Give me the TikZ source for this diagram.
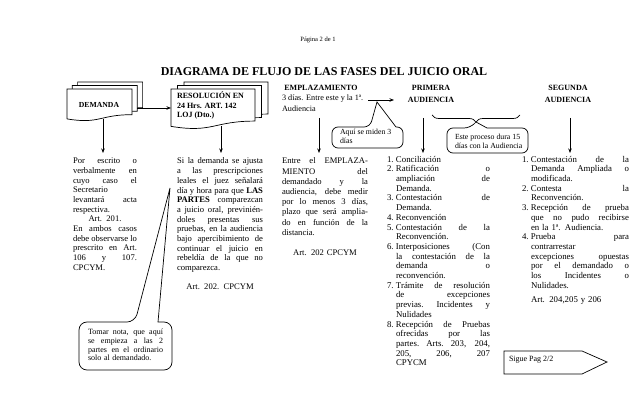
\documentclass[tikz,border=0pt]{standalone}
\usepackage{fontspec}
\setmainfont{Liberation Serif}
\usetikzlibrary{arrows.meta}
\usetikzlibrary{decorations.pathreplacing}

\newlength\lind
\setlength\lind{9pt}
\newlength\colw
\newcommand{\spreadsp}{\spaceskip=.25em plus 1fil\relax\xspaceskip=.25em plus 1fil\relax}
\newcommand{\jline}[1]{\makebox[\colw][s]{\spreadsp#1}}
\newcommand{\numj}[2]{\makebox[\lind][l]{#1}\makebox[\dimexpr\colw-\lind\relax][s]{\spreadsp#2}}
\newcommand{\numl}[2]{\makebox[\lind][l]{#1}#2}
\newcommand{\contj}[1]{\hspace*{\lind}\makebox[\dimexpr\colw-\lind\relax][s]{\spreadsp#1}}
\newcommand{\contl}[1]{\hspace*{\lind}#1}
% one sheet of a document symbol: left, top, width, height
\newcommand{\docsheet}[4]{%
  \filldraw[fill=white] (#1,#2) -- ({#1+#3},#2) -- ({#1+#3},{#2+0.802*#4})
    .. controls ({#1+0.5*#3},{#2+0.802*#4}) and ({#1+0.5*#3},{#2+1.107*#4}) .. (#1,{#2+0.934*#4}) -- cycle;}
% three sheets, offset by #5
\newcommand{\docstack}[5]{%
  \docsheet{#1+2*#5}{#2-7}{#3}{#4}
  \docsheet{#1+#5}{#2-3.5}{#3}{#4}
  \docsheet{#1}{#2}{#3}{#4}}

\begin{document}
\begin{tikzpicture}[x=1pt, y=-1pt, >={Stealth[length=4.5pt,width=3.5pt]}, line width=0.7pt,
  every node/.style={inner sep=0pt, outer sep=0pt},
  body/.style={anchor=north west, align=left, text width=#1,
    execute at begin node={\setlength{\colw}{#1}}, font=\fontsize{8.6}{9.7}\selectfont},
  head/.style={align=center, font=\bfseries\fontsize{8}{12}\selectfont},
  note/.style={anchor=north west, align=left, font=\fontsize{7.8}{9}\selectfont}]
\fill[white] (0,0) rectangle (638,406);
\useasboundingbox (0,0) rectangle (638,406);

\node[font=\fontsize{6.5}{8}\selectfont] (pagina) at (318,40) {Página 2 de 1};
\node[font=\bfseries\fontsize{12}{14}\selectfont] (titulo) at (324,72) {DIAGRAMA DE FLUJO DE LAS FASES DEL JUICIO ORAL};

% documents
\docstack{67}{89}{65}{32}{5.3}
\docstack{171}{89}{84}{40}{6.5}
\node[font=\bfseries\fontsize{7.7}{9}\selectfont] (demanda) at (99,105) {DEMANDA};
\node[anchor=north west, align=left, font=\bfseries\fontsize{8}{9.5}\selectfont] (resol) at (177,92)
  {RESOLUCIÓN EN\\24 Hrs. ART. 142\\LOJ (Dto.)};
\coordinate (demR) at (137,108);
\coordinate (resL) at (171,108);
\coordinate (demB) at (103,119.5);
\coordinate (resB) at (221,126);
\draw[->] (demR) -- (resL);

% headers
\node[head] (empl) at (321,88) {EMPLAZAMIENTO};
\node[anchor=north west, align=left, font=\fontsize{8.2}{10.5}\selectfont] (empltxt) at (282,95)
  {3 días. Entre este y la 1ª.\\Audiencia};
\node[head] (prim) at (431,94) {PRIMERA\\AUDIENCIA};
\node[head] (segu) at (568,94) {SEGUNDA\\AUDIENCIA};
\coordinate (emplR) at (368,100);
\coordinate (primL) at (394,100);
\draw[->] (emplR) -- (primL);
\coordinate (emplB) at (319,118);
\coordinate (primB) at (423,118);
\coordinate (seguB) at (570,118);

% callouts
\filldraw[fill=white] (370,127) -- (377,102) -- (396,127) [rounded corners=6pt]
  -- (403,127) -- (403,148) -- (332,148) -- (332,127) -- cycle;
\node[note] (aqui) at (340,129) {Aquí se miden 3\\días};

\coordinate (braceL) at (432,115);
\coordinate (braceR) at (520,115);
\draw[decorate, decoration={brace, mirror, amplitude=7pt}] (braceL) -- (braceR);
\filldraw[fill=white] (470,128) -- (476,122) -- (487,128) [rounded corners=6pt]
  -- (528,128) -- (528,153) -- (447,153) -- (447,128) -- cycle;
\node[note, font=\fontsize{7.8}{9.5}\selectfont] (proceso) at (455,134) {Este proceso dura 15\\días con la Audiencia};

% columns
\node[body=64pt] (col1) at (73,158) {%
  \jline{Por escrito o}\\
  \jline{verbalmente en}\\
  \jline{cuyo caso el}\\
  Secretario\\
  \jline{levantará acta}\\
  respectiva.\\
  \makebox[\colw]{Art. 201.}\\
  \jline{En ambos casos}\\
  \jline{debe observarse lo}\\
  \jline{prescrito en Art.}\\
  \jline{106 y 107.}\\
  CPCYM.};
\node[body=86pt] (col2) at (177,158) {%
  \jline{Si la demanda se ajusta}\\
  \jline{a las prescripciones}\\
  \jline{leales el juez señalará}\\
  \jline{día y hora para que \textbf{LAS}}\\
  \jline{\textbf{PARTES} comparezcan}\\
  \jline{a juicio oral, previnién-}\\
  \jline{doles presentas sus}\\
  \jline{pruebas, en la audiencia}\\
  \jline{bajo apercibimiento de}\\
  \jline{continuar el juicio en}\\
  \jline{rebeldía de la que no}\\
  comparezca.\\[9pt]
  \makebox[\colw]{Art. 202. CPCYM}};
\node[body=86pt, font=\fontsize{8.6}{10.2}\selectfont] (col3) at (282,158) {%
  \jline{Entre el EMPLAZA-}\\
  \jline{MIENTO del}\\
  \jline{demandado y la}\\
  \jline{audiencia, debe medir}\\
  \jline{por lo menos 3 días,}\\
  \jline{plazo que será amplia-}\\
  \jline{do en función de la}\\
  distancia.\\[10pt]
  \makebox[\colw]{Art. 202 CPCYM}};
\node[body=103pt, font=\fontsize{8.8}{9.7}\selectfont] (col4) at (387,156) {%
  \numl{1.}{Conciliación}\\
  \numj{2.}{Ratificación o}\\
  \contj{ampliación de}\\
  \contl{Demanda.}\\
  \numj{3.}{Contestación de}\\
  \contl{Demanda.}\\
  \numl{4.}{Reconvención}\\
  \numj{5.}{Contestación de la}\\
  \contl{Reconvención.}\\
  \numj{6.}{Interposiciones (Con}\\
  \contj{la contestación de la}\\
  \contj{demanda o}\\
  \contl{reconvención.}\\
  \numj{7.}{Trámite de resolución}\\
  \contj{de excepciones}\\
  \contj{previas. Incidentes y}\\
  \contl{Nulidades}\\
  \numj{8.}{Recepción de Pruebas}\\
  \contj{ofrecidas por las}\\
  \contj{partes. Arts. 203, 204,}\\
  \contj{205, 206, 207}\\
  \contl{CPYCM}};
\node[body=107pt, font=\fontsize{8.8}{9.7}\selectfont] (col5) at (522,156) {%
  \numj{1.}{Contestación de la}\\
  \contj{Demanda Ampliada o}\\
  \contl{modificada.}\\
  \numj{2.}{Contesta la}\\
  \contl{Reconvención.}\\
  \numj{3.}{Recepción de prueba}\\
  \contj{que no pudo recibirse}\\
  \contl{en la 1ª. Audiencia.}\\
  \numj{4.}{Prueba para}\\
  \contl{contrarrestar}\\
  \contj{excepciones opuestas}\\
  \contj{por el demandado o}\\
  \contj{los Incidentes o}\\
  \contl{Nulidades.}\\[5pt]
  \contl{Art. 204,205 y 206}};

% down arrows
\draw[->, shorten >=5pt] (demB) -- (demB |- col1.north);
\draw[->, shorten >=5pt] (resB) -- (resB |- col2.north);
\draw[->, shorten >=5pt] (emplB) -- (emplB |- col3.north);
\draw[->, shorten >=3pt] (primB) -- (primB |- col4.north);
\draw[->, shorten >=3pt] (seguB) -- (seguB |- col5.north);

% note on the parties
\filldraw[fill=white] (135,322) -- (170,188) -- (158,322) [rounded corners=8pt]
  -- (172,322) -- (172,370) -- (79,370) -- (79,322) -- cycle;
\node[note, text width=75pt, execute at begin node={\setlength{\colw}{75pt}},
  font=\fontsize{8}{8.8}\selectfont] (tomar) at (88,329) {%
  \jline{Tomar nota, que aquí}\\
  \jline{se empieza a las 2}\\
  \jline{partes en el ordinario}\\
  solo al demandado.};

% continues
\draw (504,351) -- (582,351) -- (607,362) -- (582,374) -- (504,374) -- cycle;
\node[anchor=west, font=\fontsize{8}{9}\selectfont] (sigue) at (509,360) {Sigue Pag 2/2};
\end{tikzpicture}
\end{document}
